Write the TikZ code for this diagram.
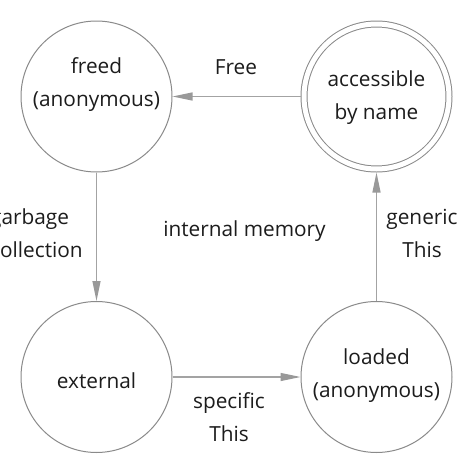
\documentclass[tikz,border=0pt]{standalone}
\usepackage{fontspec}
\setmainfont{Open Sans}
\usetikzlibrary{arrows.meta}
\definecolor{circ}{HTML}{8A8A8A}
\definecolor{conncol}{HTML}{A3A3A3}
\definecolor{tipcol}{HTML}{999999}
\definecolor{ink}{HTML}{1C1C1C}
\begin{document}
\begin{tikzpicture}[x=1pt,y=-1pt,
  state/.style={circle,draw=circ,line width=1pt,minimum size=151pt,inner sep=0pt,outer sep=0.5pt},
  accept/.style={circle,draw=circ,line width=1pt,minimum size=145pt,inner sep=0pt,double=white,double distance=5pt,outer sep=3.5pt},
  txt/.style={font=\fontsize{20.8}{33}\selectfont,text=ink,align=center,inner sep=0pt},
  conn/.style={draw=conncol,line width=1.2pt,-{Triangle[length=20pt,width=8pt,color=tipcol,fill=tipcol]}}]
\useasboundingbox (0,0) rectangle (474,474);
\fill[white] (0,0) rectangle (474,474);
\node[state] (freed) at (96.5,96.5) {};
\node[accept] (acc) at (376.5,96.5) {};
\node[state] (ext) at (96.5,377) {};
\node[state] (load) at (376.5,377) {};
\node[txt] (freedt) at (96.5,85) {freed\\(anonymous)};
\node[txt] (acct) at (376.5,98) {accessible\\by name};
\node[txt] (loadt) at (376.5,375.5) {loaded\\(anonymous)};
\node[txt,anchor=base] (extt) at (96.5,388) {external};
\draw[conn] (acc) -- (freed);
\draw[conn] (freed) -- (ext);
\draw[conn] (ext) -- (load);
\draw[conn] (load) -- (acc);
\node[txt,anchor=base] (freel) at (236,74) {Free};
\node[txt,anchor=base] (intl) at (244.5,236) {internal memory};
\node[txt,align=left,anchor=west] (gcl) at (-10,233.5) {garbage\\collection};
\node[txt] (genl) at (422,233.7) {generic\\This};
\node[txt] (specl) at (229,417) {specific\\This};
\end{tikzpicture}
\end{document}
